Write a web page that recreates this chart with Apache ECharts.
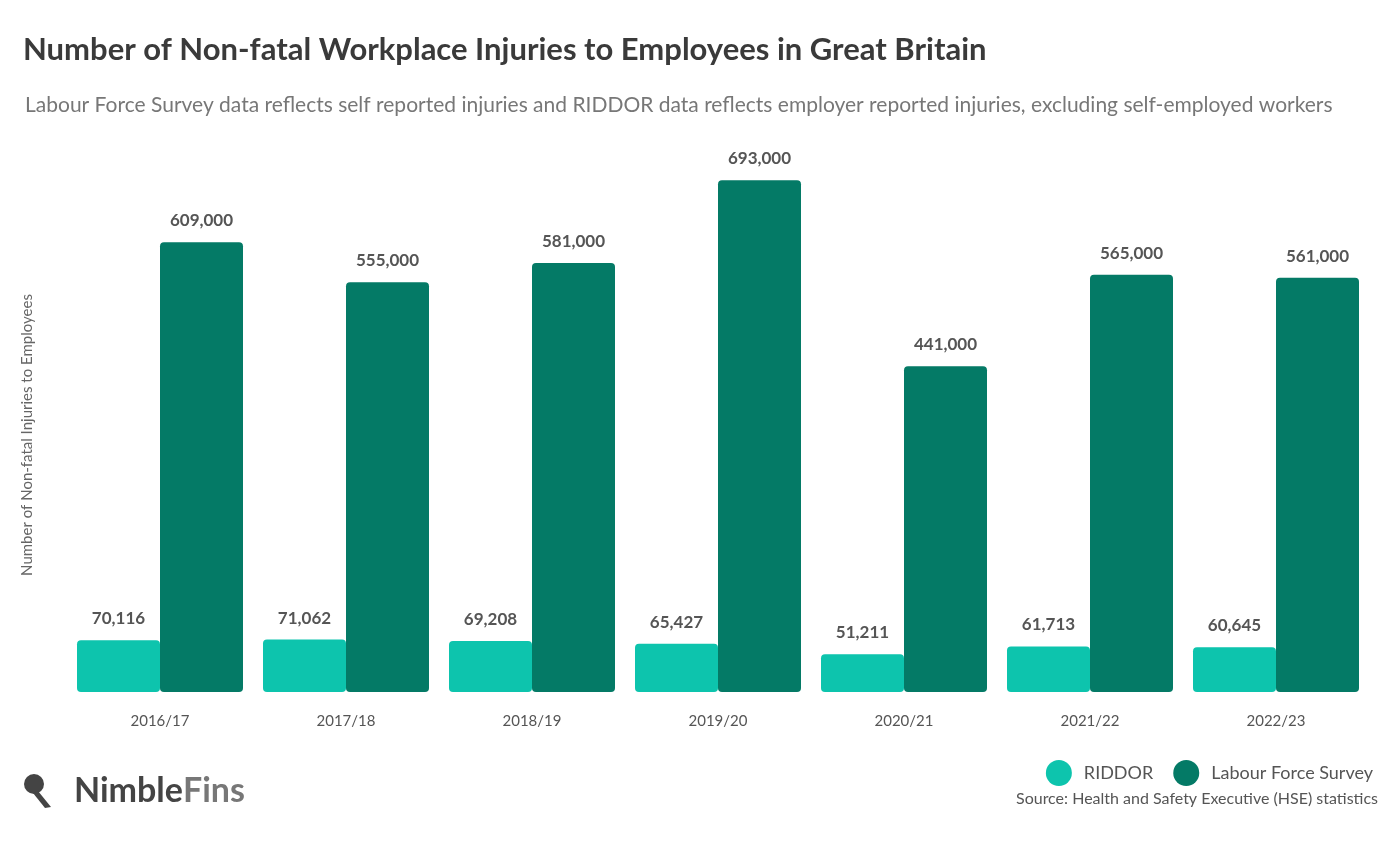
<!DOCTYPE html>
<html>
<head>
<meta charset="utf-8">
<script src="https://cdn.jsdelivr.net/npm/echarts@6/dist/echarts.min.js"></script>
<style>
html,body{margin:0;padding:0;background:#fff;}
#chart{width:1400px;height:842px;}
</style>
</head>
<body>
<div id="chart"></div>
<script>
const categories = ['2016/17', '2017/18', '2018/19', '2019/20', '2020/21', '2021/22', '2022/23'];
const riddorValues = [70116, 71062, 69208, 65427, 51211, 61713, 60645];
const lfsValues = [609000, 555000, 581000, 693000, 441000, 565000, 561000];
const seriesNames = ['RIDDOR', 'Labour Force Survey'];

const chart = echarts.init(document.getElementById('chart'));
const fmt = v => v.toLocaleString('en-GB');
const labelStyle = {
  show: true, position: 'top', distance: 13,
  color: '#555', fontSize: 17, fontWeight: 'bold', fontFamily: 'Lato',
  formatter: p => fmt(p.value)
};
chart.setOption({
  backgroundColor: '#ffffff',
  title: [
    {
      text: 'Number of Non-fatal Workplace Injuries to Employees in Great Britain',
      left: 18, top: 29,
      textStyle: { fontFamily: 'Lato', fontSize: 31, fontWeight: 'bold', color: '#3a3a3a' }
    },
    {
      text: 'Labour Force Survey data reflects self reported injuries and RIDDOR data reflects employer reported injuries, excluding self-employed workers',
      left: 20, top: 90,
      textStyle: { fontFamily: 'Lato', fontSize: 21, fontWeight: 'normal', color: '#777' }
    }
  ],
  legend: {
    right: 22, top: 755,
    icon: 'circle', itemWidth: 40, itemHeight: 26, itemGap: 20,
    textStyle: { fontFamily: 'Lato', fontSize: 18, color: '#555' },
    data: seriesNames
  },
  grid: { left: 67, right: 31, top: 178, bottom: 150 },
  xAxis: {
    type: 'category', data: categories,
    axisLine: { show: false }, axisTick: { show: false },
    axisLabel: { margin: 22, fontFamily: 'Lato', fontSize: 15, color: '#555' }
  },
  yAxis: {
    type: 'value', min: 0, max: 696000,
    name: 'Number of Non-fatal Injuries to Employees',
    nameLocation: 'middle', nameGap: 32, nameRotate: 90,
    nameTextStyle: { fontFamily: 'Lato', fontSize: 15, color: '#666' },
    axisLabel: { show: false }, axisLine: { show: false }, axisTick: { show: false },
    splitLine: { show: false }
  },
  series: [
    {
      name: seriesNames[0], type: 'bar', data: riddorValues,
      barWidth: 83, barGap: '0%',
      itemStyle: { color: '#0dc4ad', borderRadius: 4 },
      label: labelStyle
    },
    {
      name: seriesNames[1], type: 'bar', data: lfsValues,
      barWidth: 83, barGap: '0%',
      itemStyle: { color: '#047a66', borderRadius: 4 },
      label: labelStyle
    }
  ],
  graphic: [
    {
      type: 'text', right: 22, top: 791,
      style: { text: 'Source: Health and Safety Executive (HSE) statistics', fontFamily: 'Lato', fontSize: 16, fill: '#555' }
    },
    {
      type: 'group', left: 24, top: 774,
      children: [
        { type: 'circle', shape: { cx: 15, cy: 14, r: 10 }, style: { fill: '#444' } },
        { type: 'polygon', shape: { points: [[19, 21], [32, 37], [26, 38], [14, 23]] }, style: { fill: '#444' } },
        {
          type: 'text', x: 55, y: 4,
          style: {
            text: '{a|Nimble}{b|Fins}',
            rich: {
              a: { fontFamily: 'Lato', fontSize: 34, fontWeight: 'bold', fill: '#444' },
              b: { fontFamily: 'Lato', fontSize: 34, fontWeight: 'bold', fill: '#777' }
            }
          }
        }
      ]
    }
  ]
});
</script>
</body>
</html>
